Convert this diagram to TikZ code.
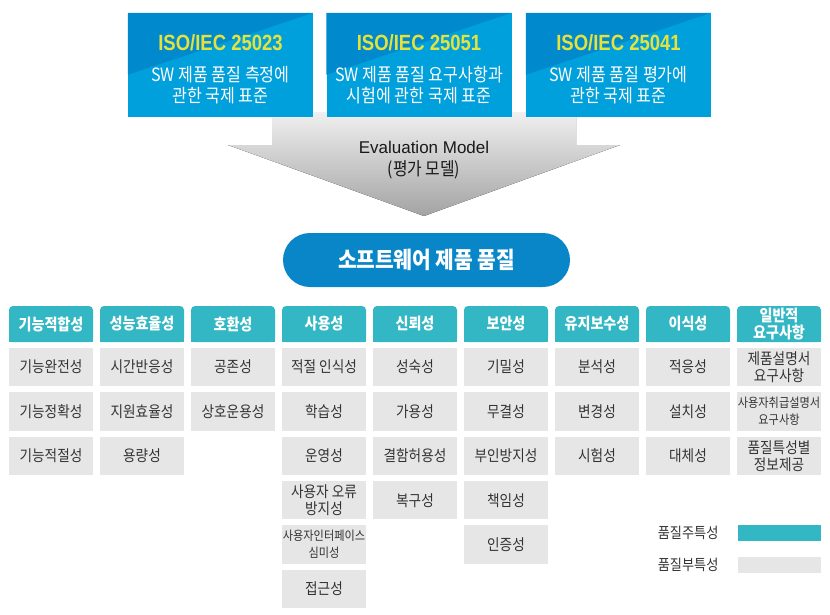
\documentclass[tikz,border=0pt]{standalone}
\usepackage{fontspec}
\setmainfont{Noto Sans CJK KR}[FakeStretch=0.88]
\newfontfamily\isofont{Liberation Sans}[FakeStretch=0.84]
\newfontfamily\evalfont{Liberation Sans}
\usepackage{xcolor}
\usepackage{tikz}

\definecolor{stdblue}{RGB}{0,160,220}
\definecolor{stddark}{RGB}{0,137,205}
\definecolor{isoyellow}{RGB}{230,226,60}
\definecolor{pillblue}{RGB}{8,134,200}
\definecolor{headteal}{RGB}{51,183,196}
\definecolor{cellgray}{RGB}{230,230,230}
\definecolor{celltext}{RGB}{51,51,51}

\newcommand{\tightcell}{\fontsize{12.7}{16}\selectfont}

\tikzset{
  stdbox/.style={fill=stdblue, minimum width=185pt, minimum height=104pt, inner sep=0pt},
  isotext/.style={text=isoyellow, font=\isofont\bfseries\fontsize{22}{24}\selectfont},
  subtext/.style={text=white, align=center, font=\fontsize{18.3}{21}\selectfont},
  evaltext/.style={text=black!90, font=\evalfont\fontsize{17}{20}\selectfont},
  evalkrtext/.style={text=black!90, font=\fontsize{18}{20}\selectfont},
  pill/.style={fill=pillblue, rounded corners=27pt, minimum width=287pt, minimum height=54pt,
    text=white, font=\bfseries\fontsize{23}{26}\selectfont},
  head/.style={fill=headteal, rounded corners=4pt, minimum width=84pt, minimum height=36pt,
    inner sep=0pt, text=white, align=center, font=\bfseries\fontsize{16}{17}\selectfont},
  cell/.style={fill=cellgray, minimum width=84pt, minimum height=38.5pt, inner sep=0pt,
    text=celltext, align=center, font=\fontsize{15.5}{17}\selectfont},
  keybox/.style={minimum width=83pt, minimum height=16pt, inner sep=0pt},
  legendtext/.style={text=celltext, anchor=east, font=\fontsize{15}{16}\selectfont}
}

\begin{document}
\begin{tikzpicture}[x=1pt,y=-1pt]
  \useasboundingbox (0,0) rectangle (830,614);

  \fill[top color=black!6, bottom color=black!36]
    (272,112) -- (576,112) -- (576,145) -- (620,145) -- (424,216) -- (228,145) -- (272,145) -- cycle;
  \node[evaltext] (eval) at (424,147) {Evaluation Model};
  \node[evalkrtext] (evalkr) at (424,170) {(평가 모델)};

  \foreach \n/\x/\num/\la/\lb in {1/220.5/25023/SW 제품 품질 측정에/관한 국제 표준,
      2/419/25051/SW 제품 품질 요구사항과/시험에 관한 국제 표준,
      3/618.5/25041/SW 제품 품질 평가에/관한 국제 표준}{
    \node[stdbox] (std\n) at (\x,65) {};
    \fill[stddark] (std\n.north west) -- (std\n.north east) -- ([yshift=-62pt]std\n.north west) -- cycle;
    \node[isotext] (iso\n) at (\x,43) {ISO/IEC \num};
    \node[subtext] (sub\n) at (\x,85) {\la\\\lb};
  }

  \node[pill] (quality) at (426.5,260) {소프트웨어 제품 품질};

  \foreach \i/\h in {0/기능적합성,1/성능효율성,2/호환성,3/사용성,4/신뢰성,5/보안성,
      6/유지보수성,7/이식성,8/{일반적\\요구사항}}{
    \fill[headteal] ({9+91*\i},324) rectangle ({93+91*\i},342);
    \node[head] (h\i) at ({51+91*\i},324) {\h};
  }

  \foreach \i/\r/\t in {0/1/기능완전성,0/2/기능정확성,0/3/기능적절성,
      1/1/시간반응성,1/2/지원효율성,1/3/용량성,
      2/1/공존성,2/2/상호운용성,
      3/1/적절 인식성,3/2/학습성,3/3/운영성,3/4/{사용자 오류\\방지성},
      3/5/{\tightcell 사용자인터페이스\\\tightcell 심미성},3/6/접근성,
      4/1/성숙성,4/2/가용성,4/3/결함허용성,4/4/복구성,
      5/1/기밀성,5/2/무결성,5/3/부인방지성,5/4/책임성,5/5/인증성,
      6/1/분석성,6/2/변경성,6/3/시험성,
      7/1/적응성,7/2/설치성,7/3/대체성,
      8/1/{제품설명서\\요구사항},8/2/{\tightcell 사용자취급설명서\\\tightcell 요구사항},8/3/{품질특성별\\정보제공}}{
    \node[cell] (c\i-\r) at ({51+91*\i},{367+44.4*(\r-1)}) {\t};
  }

  \node[legendtext] (lgmain) at (722,533) {품질주특성};
  \node[keybox, fill=headteal] (keymain) at (779.5,533) {};
  \node[legendtext] (lgsub) at (722,565) {품질부특성};
  \node[keybox, fill=cellgray] (keysub) at (779.5,564.5) {};
\end{tikzpicture}
\end{document}
